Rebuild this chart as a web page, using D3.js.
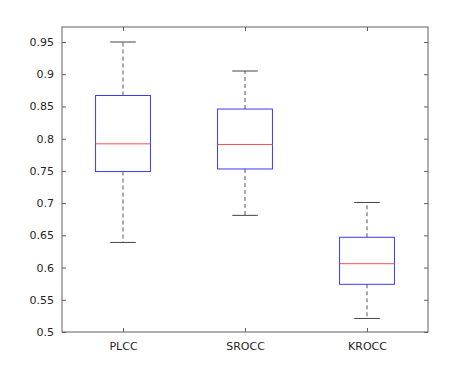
<!DOCTYPE html>
<html>
<head>
<meta charset="utf-8">
<script src="https://cdn.jsdelivr.net/npm/d3@7"></script>
<style>
  body { margin: 0; background: #fff; }
  svg { display: block; font-family: 'DejaVu Sans', sans-serif; }
</style>
</head>
<body>
<svg id="chart" width="474" height="374"></svg>
<script>
// boxplot stats
const categories = ['PLCC', 'SROCC', 'KROCC']
const lowerWhisker = [0.639, 0.681, 0.521]
const q1 = [0.749, 0.753, 0.574]
const median = [0.792, 0.791, 0.606]
const q3 = [0.867, 0.846, 0.647]
const upperWhisker = [0.950, 0.905, 0.701]
const yTicks = [0.5, 0.55, 0.6, 0.65, 0.7, 0.75, 0.8, 0.85, 0.9, 0.95]

const svg = d3.select('#chart')
const plotLeft = 62, plotRight = 428, plotTop = 27, plotBottom = 332

const x = d3.scaleLinear().domain([0.5, 3.5]).range([plotLeft, plotRight])
const y = d3.scaleLinear().domain([0.5, 0.9733]).range([plotBottom, plotTop])

const axisColor = '#606060'
const boxW = 0.45, capW = 0.21

// ------------------
// Axes frame
// ------------------
svg.append('rect')
  .attr('x', plotLeft).attr('y', plotTop)
  .attr('width', plotRight - plotLeft).attr('height', plotBottom - plotTop)
  .attr('fill', 'white')
  .attr('stroke', axisColor)

const yAxis = d3.axisLeft(y).tickValues(yTicks).tickSize(-4).tickPadding(8)
  .tickFormat(d => String(+d.toFixed(2)))
svg.append('g').attr('transform', `translate(${plotLeft},0)`).call(yAxis)
  .call(g => g.select('.domain').remove())

svg.append('g').attr('transform', `translate(${plotRight},0)`)
  .call(d3.axisRight(y).tickValues(yTicks).tickSize(-4).tickFormat(''))
  .call(g => g.select('.domain').remove())

const xAxis = d3.axisBottom(x).tickValues([1, 2, 3]).tickSize(-4).tickPadding(10)
  .tickFormat((d, i) => categories[i])
svg.append('g').attr('transform', `translate(0,${plotBottom})`).call(xAxis)
  .call(g => g.select('.domain').remove())

svg.append('g').attr('transform', `translate(0,${plotTop})`)
  .call(d3.axisTop(x).tickValues([1, 2, 3]).tickSize(-4).tickFormat(''))
  .call(g => g.select('.domain').remove())

svg.selectAll('.tick line').attr('stroke', axisColor)
svg.selectAll('.tick text').attr('fill', '#262626').attr('font-size', 11)
  .attr('font-family', "'DejaVu Sans', sans-serif")

// ------------------
// Boxes
// ------------------
const data = categories.map((c, i) => ({
  c, pos: i + 1,
  lw: lowerWhisker[i], q1: q1[i], med: median[i], q3: q3[i], uw: upperWhisker[i]
}))

const g = svg.append('g')
const box = g.selectAll('g.box').data(data).join('g').attr('class', 'box')

// whiskers (dashed)
box.append('line')
  .attr('x1', d => x(d.pos)).attr('x2', d => x(d.pos))
  .attr('y1', d => y(d.q3)).attr('y2', d => y(d.uw))
  .attr('stroke', '#555').attr('stroke-dasharray', '4,3')
box.append('line')
  .attr('x1', d => x(d.pos)).attr('x2', d => x(d.pos))
  .attr('y1', d => y(d.q1)).attr('y2', d => y(d.lw))
  .attr('stroke', '#555').attr('stroke-dasharray', '4,3')

// caps
box.selectAll('line.cap').data(d => [[d.pos, d.uw], [d.pos, d.lw]]).join('line')
  .attr('class', 'cap')
  .attr('x1', d => x(d[0] - capW / 2)).attr('x2', d => x(d[0] + capW / 2))
  .attr('y1', d => y(d[1])).attr('y2', d => y(d[1]))
  .attr('stroke', '#444')

box.append('rect')
  .attr('x', d => x(d.pos - boxW / 2))
  .attr('width', d => x(d.pos + boxW / 2) - x(d.pos - boxW / 2))
  .attr('y', d => y(d.q3))
  .attr('height', d => y(d.q1) - y(d.q3))
  .attr('fill', 'none').attr('stroke', '#3a3aff')

box.append('line')
  .attr('x1', d => x(d.pos - boxW / 2)).attr('x2', d => x(d.pos + boxW / 2))
  .attr('y1', d => y(d.med)).attr('y2', d => y(d.med))
  .attr('stroke', '#f05050')
</script>
</body>
</html>
